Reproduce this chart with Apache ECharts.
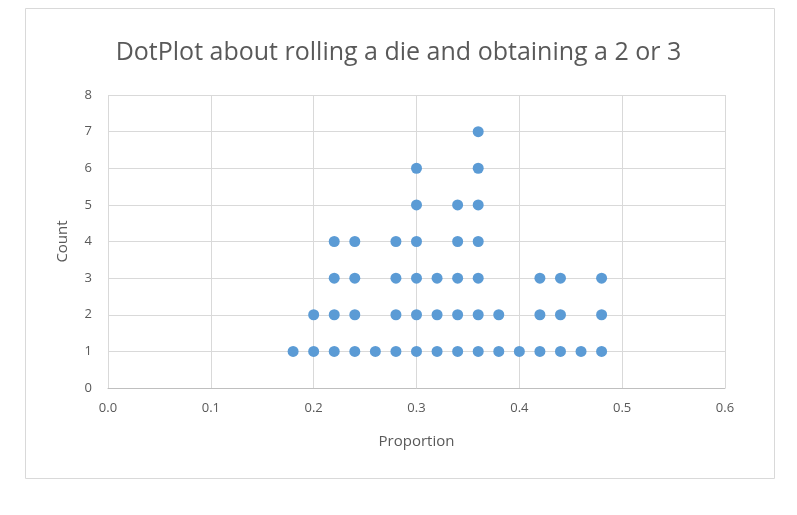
<!DOCTYPE html>
<html>
<head>
<meta charset="utf-8">
<script src="https://cdn.jsdelivr.net/npm/echarts@6/dist/echarts.min.js"></script>
<style>html,body{margin:0;background:#fff}#chart{width:797px;height:515px}</style>
</head>
<body>
<div id="chart"></div>
<script>
'use strict';
// proportion values and how many dots are stacked at each
var proportions = [0.18, 0.20, 0.22, 0.24, 0.26, 0.28, 0.30, 0.32, 0.34, 0.36, 0.38, 0.40, 0.42, 0.44, 0.46, 0.48];
var counts = [1, 2, 4, 4, 1, 4, 6, 3, 5, 7, 2, 1, 3, 3, 1, 3];

var dots = [];
for (var i = 0; i < proportions.length; i++) {
    for (var c = 1; c <= counts[i]; c++) {
        dots.push([proportions[i], c]);
    }
}

var chart = echarts.init(document.getElementById('chart'));
var font = '"Open Sans", sans-serif';
chart.setOption({
    animation: false,
    title: {
        text: 'DotPlot about rolling a die and obtaining a 2 or 3',
        left: 'center',
        top: 35,
        textStyle: {color: '#595959', fontSize: 25, fontWeight: 'normal', fontFamily: font}
    },
    graphic: [{
        type: 'rect',
        shape: {x: 25.5, y: 8.5, width: 749, height: 470},
        style: {fill: 'none', stroke: '#d9d9d9', lineWidth: 1}
    }],
    grid: {left: 108, right: 72, top: 95, bottom: 127},
    xAxis: {
        type: 'value', min: 0, max: 0.6, interval: 0.1,
        name: 'Proportion', nameLocation: 'middle', nameGap: 46,
        nameTextStyle: {color: '#595959', fontSize: 15, fontFamily: font},
        axisLine: {show: true, lineStyle: {color: '#bfbfbf'}},
        axisTick: {show: false},
        axisLabel: {color: '#595959', fontSize: 13, fontFamily: font, margin: 14,
            formatter: function (v) { return v.toFixed(1); }},
        splitLine: {show: true, lineStyle: {color: '#d9d9d9'}}
    },
    yAxis: {
        type: 'value', min: 0, max: 8, interval: 1,
        name: 'Count', nameLocation: 'middle', nameGap: 38,
        nameTextStyle: {color: '#595959', fontSize: 15, fontFamily: font},
        axisLine: {show: false},
        axisTick: {show: false},
        axisLabel: {color: '#595959', fontSize: 13, fontFamily: font, margin: 16},
        splitLine: {show: true, lineStyle: {color: '#d9d9d9'}}
    },
    series: [{
        type: 'scatter',
        data: dots,
        symbolSize: 11,
        itemStyle: {color: '#5b9bd5', opacity: 1}
    }]
});
</script>
</body>
</html>
